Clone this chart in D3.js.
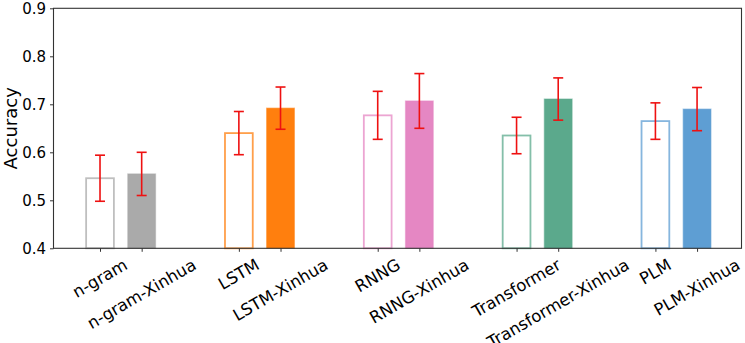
<!DOCTYPE html>
<html><head><meta charset="utf-8">
<script src="https://cdn.jsdelivr.net/npm/d3@7"></script>
<style>body{margin:0;background:#fff}svg{display:block}text{font-family:"DejaVu Sans",sans-serif;fill:#000}</style>
</head><body><svg id="c" width="745" height="343"></svg>
<script>
const labels = ["n-gram","n-gram-Xinhua","LSTM","LSTM-Xinhua","RNNG","RNNG-Xinhua","Transformer","Transformer-Xinhua","PLM","PLM-Xinhua"];
const values = [0.546,0.555,0.640,0.692,0.677,0.707,0.635,0.711,0.665,0.690];
const errors = [0.048,0.045,0.045,0.044,0.050,0.057,0.038,0.044,0.038,0.045];
const filled = [false,true,false,true,false,true,false,true,false,true];
const colors = ["#aaaaaa","#aaaaaa","#ff7f0e","#ff7f0e","#e587c3","#e587c3","#5ba98c","#5ba98c","#5e9ed3","#5e9ed3"];
const positions = [0,0.3,1,1.3,2,2.3,3,3.3,4,4.3];
const yTicks = [0.4,0.5,0.6,0.7,0.8,0.9];

const svg = d3.select("#c");
const L=53.5, R=741.5, T=8.3, B=248.3;
const x = d3.scaleLinear().domain([-0.335,4.62]).range([L,R]);
const y = d3.scaleLinear().domain([0.4,0.9]).range([B,T]);
const bw = x(0.2)-x(0);

const g = svg.append("g");
g.selectAll("rect.bar").data(labels).enter().append("rect")
  .attr("x",(d,i)=>x(positions[i])-bw/2)
  .attr("width",bw)
  .attr("y",(d,i)=>y(values[i]))
  .attr("height",(d,i)=>y(0.4)-y(values[i]))
  .attr("fill",(d,i)=>filled[i]?colors[i]:"#fff")
  .attr("stroke",(d,i)=>colors[i])
  .attr("stroke-opacity",(d,i)=>filled[i]?0.5:0.75)
  .attr("stroke-width",(d,i)=>filled[i]?1.2:1.8);
const eb = g.selectAll("g.err").data(labels).enter().append("g").attr("stroke","#ee1111").attr("stroke-width",1.6).attr("fill","none");
eb.append("line").attr("x1",(d,i)=>x(positions[i])).attr("x2",(d,i)=>x(positions[i]))
  .attr("y1",(d,i)=>y(values[i]-errors[i])).attr("y2",(d,i)=>y(values[i]+errors[i]));
[-1,1].forEach(s=>{
  eb.append("line").attr("x1",(d,i)=>x(positions[i])-5).attr("x2",(d,i)=>x(positions[i])+5)
    .attr("y1",(d,i)=>y(values[i]+s*errors[i])).attr("y2",(d,i)=>y(values[i]+s*errors[i]));
});
svg.append("rect").attr("x",L).attr("y",T).attr("width",R-L).attr("height",B-T)
  .attr("fill","none").attr("stroke","#333").attr("stroke-width",1.1);
const ya = svg.append("g").attr("transform",`translate(${L},0)`)
  .call(d3.axisLeft(y).tickValues(yTicks).tickFormat(d3.format(".1f")).tickSize(3.5).tickPadding(4));
ya.select(".domain").remove();
ya.selectAll("text").style("font-size","15px").style("font-family","DejaVu Sans");
ya.selectAll("line").attr("stroke","#333");
const xa = svg.append("g").attr("transform",`translate(0,${B})`)
  .call(d3.axisBottom(x).tickValues(positions).tickFormat("").tickSize(3.5));
xa.select(".domain").remove();
xa.selectAll("line").attr("stroke","#333");
const fs = 16.5;
const lt = svg.append("g").selectAll("text").data(labels).enter().append("text")
  .text(d=>d).style("font-size",fs+"px").attr("text-anchor","middle").attr("dominant-baseline","central");
lt.each(function(d,i){
  const Lw = this.getComputedTextLength();
  const h = fs*1.0;
  const bh = Lw*0.5 + h*0.866;
  const yc = B + 8 + bh/2;
  d3.select(this).attr("transform",`translate(${x(positions[i])},${yc}) rotate(-30)`);
});
svg.append("text").text("Accuracy").style("font-size","18px").attr("text-anchor","middle")
  .attr("dominant-baseline","central").attr("transform",`translate(10,${(T+B)/2}) rotate(-90)`);
</script></body></html>
